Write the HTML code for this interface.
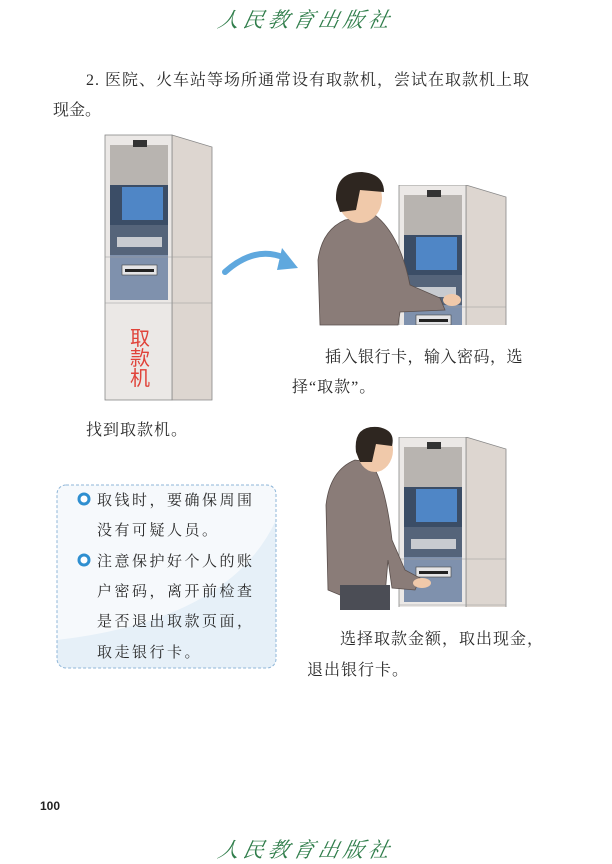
<!DOCTYPE html>
<html><head><meta charset="utf-8"><style>
html,body{margin:0;padding:0;background:#fff;}
body{width:612px;height:864px;position:relative;overflow:hidden;font-family:"Liberation Serif","Noto Serif CJK SC",serif;color:#2a2a2a;}
.t{position:absolute;white-space:nowrap;font-size:16px;}
.k{position:absolute;white-space:nowrap;font-size:15px;font-family:"Liberation Serif","Noto Serif CJK SC",serif;letter-spacing:2.5px;}
.logo{position:absolute;left:0;width:612px;text-align:center;color:#2f7d4a;font-size:21px;font-style:italic;font-family:"Noto Serif CJK SC",serif;letter-spacing:4px;transform:skewX(-12deg);}
</style></head><body>
<div class="logo" style="top:4px;">人民教育出版社</div>
<div class="logo" style="top:834px;">人民教育出版社</div>

<div class="t" style="left:86px;top:67px;letter-spacing:1px;">2. 医院、火车站等场所通常设有取款机，尝试在取款机上取</div>
<div class="t" style="left:53px;top:97px;">现金。</div>

<svg width="612" height="864" style="position:absolute;left:0;top:0" xmlns="http://www.w3.org/2000/svg">
<defs>
<g id="atm">
  <polygon points="67,0 107,12 107,265 67,265" fill="#ddd6d0" stroke="#888" stroke-width="0.8"/>
  <rect x="0" y="0" width="67" height="265" fill="#ebe8e6" stroke="#888" stroke-width="0.8"/>
  <rect x="5" y="10" width="58" height="40" fill="#b8b4b0"/>
  <rect x="28" y="5" width="14" height="7" fill="#333"/>
  <rect x="5" y="50" width="58" height="40" fill="#3b4d66"/>
  <rect x="17" y="52" width="41" height="33" fill="#4f86c6"/>
  <rect x="5" y="90" width="58" height="30" fill="#55647a"/>
  <rect x="12" y="102" width="45" height="10" fill="#c8cbd0"/>
  <rect x="5" y="120" width="58" height="45" fill="#7f91ad"/>
  <rect x="17" y="130" width="35" height="10" fill="#e4e4e6" stroke="#444" stroke-width="0.6"/>
  <rect x="20" y="134" width="29" height="3" fill="#222"/>
  <line x1="0" y1="122" x2="107" y2="122" stroke="#999" stroke-width="0.6"/>
  <line x1="0" y1="168" x2="107" y2="168" stroke="#999" stroke-width="0.6"/>
</g>
</defs>

<use href="#atm" x="105" y="135"/>
<text x="140" y="345" font-size="20" fill="#e0433a" font-family="Liberation Sans,Noto Sans CJK SC,sans-serif" text-anchor="middle">取</text>
<text x="140" y="365" font-size="20" fill="#e0433a" font-family="Liberation Sans,Noto Sans CJK SC,sans-serif" text-anchor="middle">款</text>
<text x="140" y="385" font-size="20" fill="#e0433a" font-family="Liberation Sans,Noto Sans CJK SC,sans-serif" text-anchor="middle">机</text>

<path d="M225,272 Q255,245 285,258" stroke="#5fa8de" stroke-width="6" fill="none" stroke-linecap="round"/>
<polygon points="282,248 298,268 277,270" fill="#5fa8de"/>

<svg x="395" y="185" width="115" height="140" viewBox="0 0 107 140"><use href="#atm" x="0" y="0"/></svg>
<path d="M320,325 L318,260 Q322,230 345,220 L375,215 Q400,235 410,285 L440,298 L445,310 L400,312 L398,325 Z" fill="#8a7c78" stroke="#5a4f4c" stroke-width="0.8"/>
<ellipse cx="360" cy="198" rx="22" ry="25" fill="#f0c9aa"/>
<path d="M336,200 Q335,172 362,172 Q384,174 384,192 L360,190 L356,210 L340,212 Z" fill="#2e2620"/>
<ellipse cx="452" cy="300" rx="9" ry="6" fill="#f0c9aa"/>

<svg x="395" y="437" width="115" height="170" viewBox="0 0 107 170"><use href="#atm" x="0" y="0"/></svg>
<path d="M328,590 L326,505 Q330,470 355,460 L370,462 Q385,480 392,540 L405,570 L420,578 L415,590 L392,588 L388,560 L385,595 L340,595 Z" fill="#8a7c78" stroke="#5a4f4c" stroke-width="0.8"/>
<rect x="340" y="585" width="50" height="25" fill="#4b4d55"/>
<ellipse cx="375" cy="450" rx="18" ry="22" fill="#f0c9aa"/>
<path d="M356,452 Q353,425 378,427 Q396,430 392,446 L376,444 L372,462 L360,462 Z" fill="#2e2620"/>
<ellipse cx="422" cy="583" rx="9" ry="5" fill="#f0c9aa"/>

<defs><clipPath id="bc"><rect x="57" y="485" width="219" height="183" rx="9"/></clipPath></defs>
<g clip-path="url(#bc)">
<rect x="57" y="485" width="219" height="183" fill="#e6f0f8"/>
<path d="M57,485 L276,485 L276,520 Q230,620 57,640 Z" fill="#f6f9fc"/>
</g>
<rect x="57" y="485" width="219" height="183" rx="9" fill="none" stroke="#8fb6d8" stroke-width="1" stroke-dasharray="3,2"/>
<circle cx="84" cy="499" r="5" fill="#fff" stroke="#2f8fd0" stroke-width="3"/>
<circle cx="84" cy="560" r="5" fill="#fff" stroke="#2f8fd0" stroke-width="3"/>

<text x="40" y="810" font-size="12" font-weight="bold" font-family="Liberation Sans,sans-serif" fill="#222">100</text>
</svg>

<div class="t" style="left:325px;top:344px;letter-spacing:0.5px;">插入银行卡，输入密码，选</div>
<div class="t" style="left:292px;top:374px;letter-spacing:1px;">择“取款”。</div>
<div class="t" style="left:86px;top:417px;letter-spacing:1px;">找到取款机。</div>
<div class="t" style="left:340px;top:626px;letter-spacing:1px;">选择取款金额，取出现金，</div>
<div class="t" style="left:307px;top:657px;letter-spacing:1px;">退出银行卡。</div>

<div class="k" style="left:97px;top:489px;">取钱时，要确保周围</div>
<div class="k" style="left:97px;top:519px;">没有可疑人员。</div>
<div class="k" style="left:97px;top:550px;">注意保护好个人的账</div>
<div class="k" style="left:97px;top:580px;">户密码，离开前检查</div>
<div class="k" style="left:97px;top:610px;">是否退出取款页面，</div>
<div class="k" style="left:97px;top:641px;">取走银行卡。</div>
</body></html>
